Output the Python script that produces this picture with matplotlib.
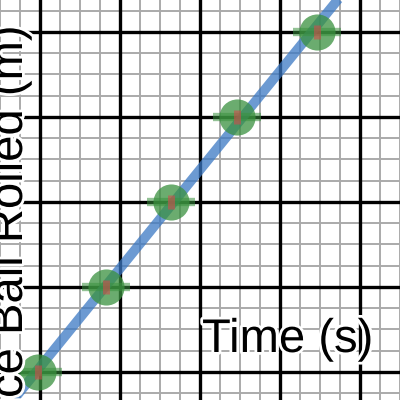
import matplotlib
matplotlib.use("Agg")
import matplotlib.pyplot as plt
import matplotlib.patheffects as pe
import numpy as np

time_s = [-0.025, 0.83, 1.64, 2.46, 3.46]
distance_m = [0.0, 1.0, 2.0, 3.0, 4.0]
time_err = [0.3, 0.3, 0.3, 0.3, 0.3]
dist_err = [0.08, 0.08, 0.08, 0.08, 0.08]

fig = plt.figure(figsize=(4, 4), dpi=100)
ax = fig.add_axes([0, 0, 1, 1])
ax.set_xlim(-0.5, 4.5)
ax.set_ylim(-0.33, 4.376)
for v in np.arange(-0.5, 4.6, 0.25):
    ax.axvline(v, color='#aaaaaa', lw=1.4, zorder=0)
for v in np.arange(-0.25, 4.5, 0.25):
    ax.axhline(v, color='#aaaaaa', lw=1.4, zorder=0)
for v in range(0, 5):
    ax.axvline(v, color='black', lw=2.4, zorder=1)
    ax.axhline(v, color='black', lw=2.4, zorder=1)
ax.set_xticks([]); ax.set_yticks([])
for s in ax.spines.values():
    s.set_visible(False)

m, b = np.polyfit(time_s, distance_m, 1)
xx = np.array([-1, 5])
ax.plot(xx, m*xx+b, color='#3b78c3', lw=7, alpha=0.75, zorder=3, solid_capstyle='butt')

ax.errorbar(time_s, distance_m, xerr=time_err, fmt='none', ecolor='#3a913f', elinewidth=6, alpha=0.55, zorder=4, capsize=0)
ax.plot(time_s, distance_m, 'o', color='#3a913f', ms=26, alpha=0.75, mec='none', zorder=5)
ax.errorbar(time_s, distance_m, yerr=dist_err, fmt='none', ecolor='#d04c4c', elinewidth=5, alpha=0.6, zorder=6, capsize=0)

stroke = [pe.withStroke(linewidth=4, foreground='white')]
ax.text(0.505, 0.15, 'Time (s)', transform=ax.transAxes, fontsize=34, family='Liberation Sans', ha='left', va='center', path_effects=stroke, zorder=10)
fig.text(0.025, 0.935, 'Distance Ball Rolled (m)', rotation=90, fontsize=34, family='Liberation Sans', ha='center', va='top', path_effects=stroke, zorder=10)
fig.savefig('out.png', dpi=100)
